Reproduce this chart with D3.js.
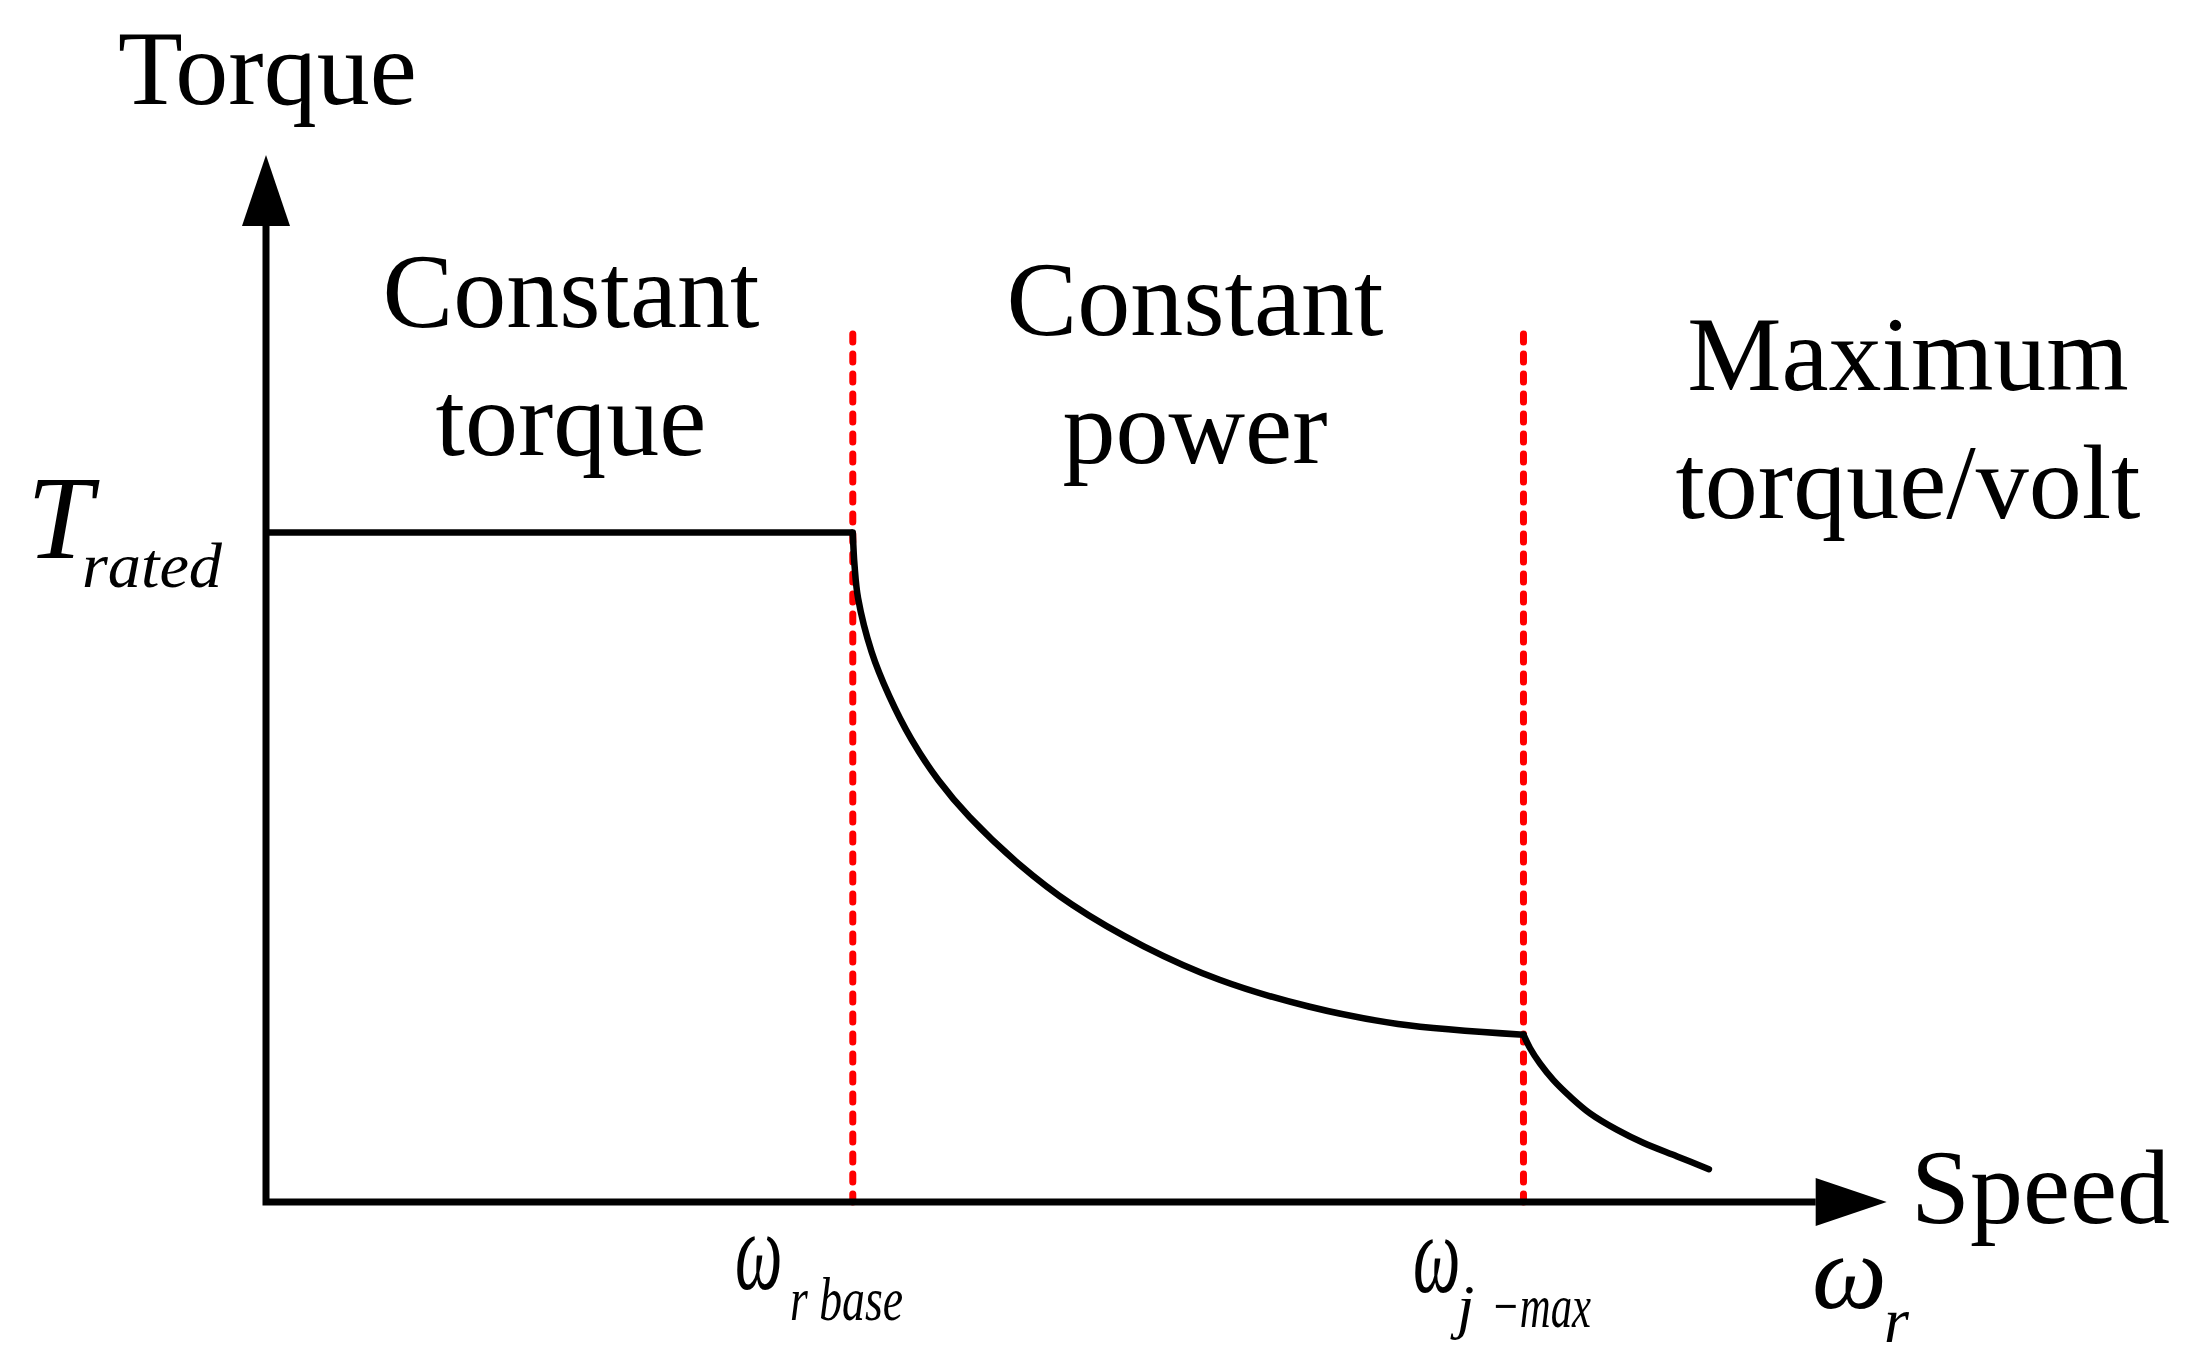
<!DOCTYPE html>
<html>
<head>
<meta charset="utf-8">
<script src="https://cdn.jsdelivr.net/npm/d3@7"></script>
<style>
  html, body { margin: 0; padding: 0; background: #fff; }
  svg { display: block; }
  text { font-family: "Liberation Serif", "Times New Roman", serif; fill: #000; }
</style>
</head>
<body>
<svg id="chart" width="2192" height="1366"></svg>
<script>
// Speed in units of the base speed, torque in units of rated torque.
var AXIS_MAX_SPEED  = 2.762;
var AXIS_MAX_TORQUE = 1.564;

var BOUNDARIES    = [1, 2.143];     // omega_r base, omega_r max
var BOUNDARY_TOP  = 1.304;

var CONST_TORQUE  = [[0, 1], [1, 1]];

var CONST_POWER   = [
  [1.000, 1.000], [1.003, 0.951], [1.009, 0.902], [1.032, 0.822],
  [1.062, 0.756], [1.100, 0.691], [1.146, 0.630], [1.199, 0.575],
  [1.283, 0.505], [1.374, 0.444], [1.496, 0.382], [1.625, 0.332],
  [1.777, 0.292], [1.929, 0.266], [2.143, 0.250]
];

var MAX_TORQUE_VOLT = [
  [2.143, 0.250], [2.154, 0.230], [2.171, 0.207], [2.194, 0.182],
  [2.223, 0.157], [2.257, 0.132], [2.302, 0.108], [2.348, 0.088],
  [2.405, 0.068], [2.459, 0.049]
];

var REGION_LABELS = [["Constant", "torque"], ["Constant", "power"], ["Maximum", "torque/volt"]];
var AXIS_TITLES   = { y: "Torque", x: "Speed" };

var svg = d3.select("#chart");

var x = d3.scaleLinear().domain([0, AXIS_MAX_SPEED]).range([266, 1886.7]);
var y = d3.scaleLinear().domain([0, AXIS_MAX_TORQUE]).range([1202, 155]);

var line = d3.line()
  .x(function (d) { return x(d[0]); })
  .y(function (d) { return y(d[1]); });

// Red dashed region boundaries
svg.append("g")
  .selectAll("line")
  .data(BOUNDARIES)
  .enter().append("line")
  .attr("x1", function (d) { return x(d); })
  .attr("x2", function (d) { return x(d); })
  .attr("y1", y(0))
  .attr("y2", y(BOUNDARY_TOP))
  .attr("stroke", "#ff0000")
  .attr("stroke-width", 7)
  .attr("stroke-linecap", "round")
  .attr("stroke-dasharray", "8 12");

// Axes with arrow heads
var ARROW_LEN = 71, ARROW_HALF = 24;
var ax = svg.append("g");
ax.append("path")
  .attr("d", "M" + x(0) + "," + (y(AXIS_MAX_TORQUE) + ARROW_LEN) + "V" + y(0) + "H" + (x(AXIS_MAX_SPEED) - ARROW_LEN))
  .attr("fill", "none")
  .attr("stroke", "#000")
  .attr("stroke-width", 7);

ax.append("path")
  .attr("d", "M" + x(0) + "," + y(AXIS_MAX_TORQUE) +
    "L" + (x(0) - ARROW_HALF) + "," + (y(AXIS_MAX_TORQUE) + ARROW_LEN) +
    "L" + (x(0) + ARROW_HALF) + "," + (y(AXIS_MAX_TORQUE) + ARROW_LEN) + "Z")
  .attr("fill", "#000");

ax.append("path")
  .attr("d", "M" + x(AXIS_MAX_SPEED) + "," + y(0) +
    "L" + (x(AXIS_MAX_SPEED) - ARROW_LEN) + "," + (y(0) - ARROW_HALF) +
    "L" + (x(AXIS_MAX_SPEED) - ARROW_LEN) + "," + (y(0) + ARROW_HALF) + "Z")
  .attr("fill", "#000");

// Torque-speed envelope
svg.append("path")
  .datum(CONST_TORQUE)
  .attr("d", line)
  .attr("fill", "none")
  .attr("stroke", "#000")
  .attr("stroke-width", 6.5);

// Catmull-Rom keeps the curve on the read points but smooth between them
svg.selectAll("path.curve")
  .data([CONST_POWER, MAX_TORQUE_VOLT])
  .enter().append("path")
  .attr("class", "curve")
  .attr("d", line.curve(d3.curveCatmullRom.alpha(0.5)))
  .attr("fill", "none")
  .attr("stroke", "#000")
  .attr("stroke-width", 6.5)
  .attr("stroke-linecap", "round")
  .attr("stroke-linejoin", "round");

// Region labels
var regionPos = [[571, 327], [1195, 335], [1908, 390]];
REGION_LABELS.forEach(function (lines, i) {
  var t = svg.append("text")
    .attr("text-anchor", "middle")
    .attr("font-size", 106);
  lines.forEach(function (s, j) {
    t.append("tspan")
      .attr("x", regionPos[i][0])
      .attr("y", regionPos[i][1] + j * 128)
      .text(s);
  });
});

// Axis titles
svg.append("text").attr("x", 118).attr("y", 104).attr("font-size", 106).text(AXIS_TITLES.y);
svg.append("text").attr("x", 1911).attr("y", 1223).attr("font-size", 106).text(AXIS_TITLES.x);

// Symbol labels. sx squeezes a glyph horizontally like the (narrow) original.
function label(txt, px, py, size, sx, len) {
  var t = svg.append("text")
    .attr("transform", "translate(" + px + "," + py + ") scale(" + (sx || 1) + ",1)")
    .attr("font-size", size)
    .attr("font-style", "italic")
    .text(txt);
  if (len) t.attr("textLength", len).attr("lengthAdjust", "spacingAndGlyphs");
  return t;
}

label("T", 27, 558, 118);
label("rated", 82, 587, 64, 1, 140);

label("\u03c9", 735, 1289, 112, 0.6);
label("r base", 790, 1320, 62, 1, 113);

label("\u03c9", 1413, 1292, 112, 0.6);
label("j", 1457, 1327, 62);
label("\u2212max", 1491, 1327, 62, 1, 100);

label("\u03c9", 1812, 1308, 106);
label("r", 1884, 1342, 64);
</script>
</body>
</html>
